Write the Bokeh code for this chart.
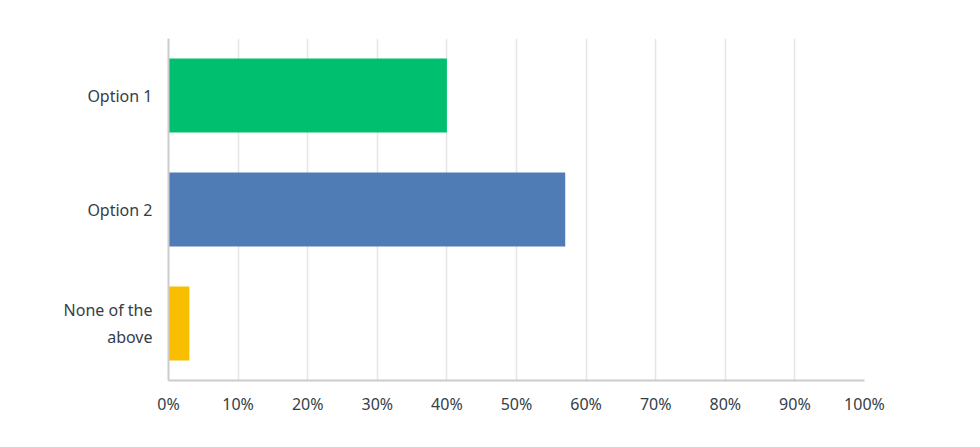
from bokeh.plotting import figure
from bokeh.models import FactorRange, Range1d, NumeralTickFormatter, FixedTicker
from bokeh.embed import file_html
from bokeh.resources import INLINE

categories = ["Option 1", "Option 2", "None of the\nabove"]
values = [0.40, 0.57, 0.03]
colors = ["#00BF6F", "#507CB6", "#F9BE00"]
ticks = [i / 10 for i in range(11)]

p = figure(width=964, height=431, output_backend="svg", toolbar_location=None,
           y_range=FactorRange(factors=list(reversed(categories))),
           x_range=Range1d(0, 1),
           min_border_left=168, min_border_right=100, min_border_top=38, min_border_bottom=51)
p.outline_line_color = None

p.hbar(y=categories, right=values, left=0, height=0.65, color=colors, line_color=None)

p.xaxis.ticker = FixedTicker(ticks=ticks)
p.xaxis.formatter = NumeralTickFormatter(format="0%")
p.xaxis.major_tick_line_color = None
p.xaxis.minor_tick_line_color = None
p.xaxis.axis_line_color = "#cccccc"
p.xaxis.axis_line_width = 2
p.xaxis.major_label_text_font = "Noto Sans"
p.xaxis.major_label_text_font_size = "16px"
p.xaxis.major_label_text_color = "#333e48"
p.xaxis.major_label_standoff = 6

p.yaxis.major_tick_line_color = None
p.yaxis.minor_tick_line_color = None
p.yaxis.axis_line_color = "#cccccc"
p.yaxis.axis_line_width = 2
p.yaxis.major_label_text_font = "Noto Sans"
p.yaxis.major_label_text_font_size = "16px"
p.yaxis.major_label_text_color = "#333e48"
p.yaxis.major_label_standoff = 10

p.ygrid.grid_line_color = None
p.xgrid.grid_line_color = "#e5e5e5"
p.xgrid.grid_line_width = 1.5

open("out.html", "w").write(file_html(p, INLINE))
